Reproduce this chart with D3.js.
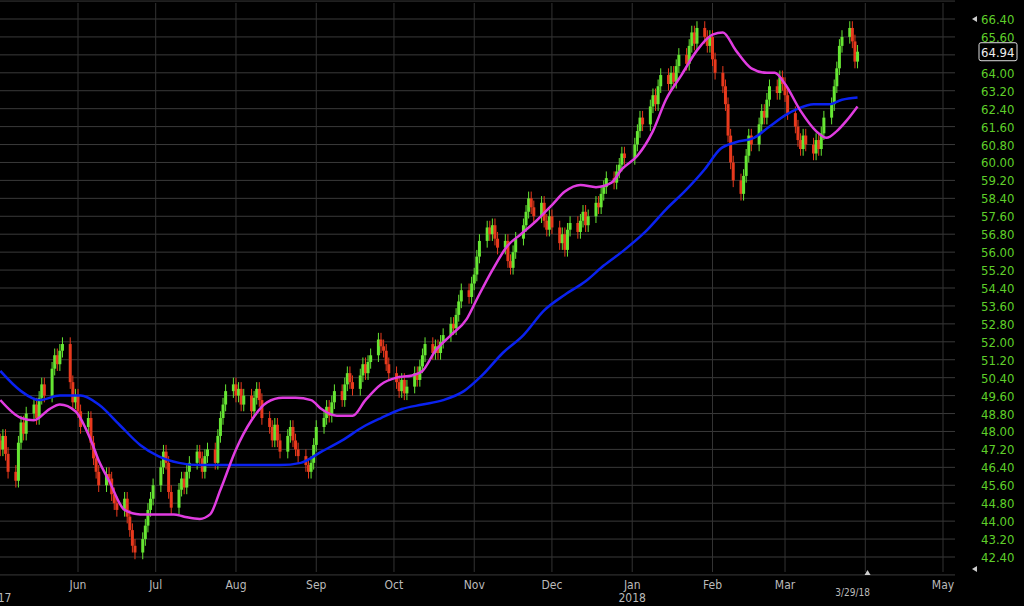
<!DOCTYPE html>
<html>
<head>
<meta charset="utf-8">
<script src="https://cdn.jsdelivr.net/npm/d3@7"></script>
<style>
  body { margin: 0; background: #000; overflow: hidden; }
  svg { display: block; font-family: "DejaVu Sans Condensed", "DejaVu Sans", sans-serif; }
</style>
</head>
<body>
<div id="chart"></div>
<script>
// daily closes per month (trading days)
const months = ["2017-05-02", "2017-06-01", "2017-07-03", "2017-08-01", "2017-09-01", "2017-10-02",
  "2017-11-01", "2017-12-01", "2018-01-02", "2018-02-01", "2018-03-01"];
const closes = [
  [47.2,47.8,47.0,46.2,45.8,47.5,48.4,47.9,48.8,49.2,48.6,49.5,50.1,49.6,50.8,51.4,51.0,51.6,51.9,50.2,49.3,49.6],
  [48.9,48.2,48.6,47.5,46.8,46.2,45.6,46.1,45.9,45.2,44.8,44.5,45.0,44.2,43.6,42.9,42.6,43.2,43.8,44.5,45.0,45.6],
  [46.4,47.1,46.6,45.3,44.6,45.4,45.9,45.5,46.2,46.6,47.1,46.8,46.2,46.9,47.2,46.6,47.8,48.6,49.2,49.8,50.1],
  [49.6,49.9,49.2,49.6,48.9,49.5,49.9,49.4,48.6,48.2,47.6,48.3,47.6,47.1,47.8,48.2,47.6,47.2,46.9,46.5,46.2,46.6,47.4],
  [48.2,48.6,49.1,48.7,49.3,49.8,49.4,50.1,50.6,50.2,49.9,50.5,51.0,50.6,51.1,51.4,52.1,51.8,51.6,51.0,50.6],
  [50.2,49.8,50.3,49.7,50.0,50.6,50.3,50.9,51.4,51.9,51.5,51.8,51.5,52.0,52.3,52.8,52.6,53.2,53.8,54.3,54.0,54.6],
  [55.0,55.8,56.5,57.1,56.8,57.2,56.6,56.2,56.5,55.6,55.3,56.0,56.6,57.2,57.8,58.4,58.0,57.6,58.2,57.4,57.0,57.6],
  [57.1,56.4,56.8,56.1,57.0,57.3,56.9,57.4,57.8,57.2,57.6,58.2,58.0,58.6,58.9,59.3,59.1,59.6,59.9,60.4,60.2],
  [60.8,61.4,62.0,61.7,62.5,63.0,62.6,63.4,63.9,63.5,64.0,63.6,64.3,64.8,64.4,65.2,65.8,65.3,66.0,65.6,65.2,65.6],
  [64.6,64.0,63.4,62.6,61.2,60.0,59.2,58.6,59.4,60.3,61.2,60.8,61.7,62.3,62.0,62.8,63.4,63.1,63.8,63.5],
  [63.0,62.2,61.6,61.0,60.6,61.2,60.8,60.4,61.0,60.6,61.3,62.0,62.6,63.4,64.2,65.2,65.6,66.0,65.4,64.5,64.94]
];
const firstOpen = 47.6;

// moving averages
const maShortDates = ["2017-05-02","2017-05-10","2017-05-15","2017-05-21","2017-05-25","2017-05-31","2017-06-06","2017-06-09","2017-06-13","2017-06-19","2017-06-25","2017-07-02","2017-07-08","2017-07-12","2017-07-18","2017-07-22","2017-07-26","2017-08-01","2017-08-07","2017-08-13","2017-08-19","2017-08-24","2017-08-30","2017-09-03","2017-09-09","2017-09-15","2017-09-20","2017-09-26","2017-10-02","2017-10-08","2017-10-12","2017-10-17","2017-10-23","2017-10-29","2017-11-02","2017-11-08","2017-11-14","2017-11-19","2017-11-25","2017-12-01","2017-12-06","2017-12-12","2017-12-18","2017-12-24","2017-12-28","2018-01-03","2018-01-09","2018-01-14","2018-01-20","2018-01-26","2018-02-01","2018-02-05","2018-02-10","2018-02-16","2018-02-22","2018-02-25","2018-03-01","2018-03-07","2018-03-13","2018-03-17","2018-03-21","2018-03-25","2018-03-29"];
const maShort = [49.4,48.6,48.5,49.0,49.2,48.9,47.6,46.7,45.8,44.5,44.3,44.3,44.3,44.2,44.1,44.3,45.4,47.2,48.5,49.3,49.5,49.5,49.4,49.0,48.7,48.7,49.4,50.1,50.4,50.5,50.7,51.6,52.3,53.0,53.9,55.2,56.3,56.8,57.4,58.1,58.7,59.0,58.9,59.1,59.7,60.3,61.4,62.8,63.9,65.0,65.7,65.8,65.0,64.2,64.0,64.0,63.5,62.3,61.4,61.1,61.4,61.9,62.5];
const maLongDates = ["2017-05-02","2017-05-10","2017-05-17","2017-05-25","2017-06-02","2017-06-09","2017-06-17","2017-06-25","2017-07-02","2017-07-10","2017-07-18","2017-07-26","2017-08-03","2017-08-10","2017-08-18","2017-08-26","2017-09-03","2017-09-11","2017-09-19","2017-09-26","2017-10-04","2017-10-12","2017-10-20","2017-10-28","2017-11-04","2017-11-12","2017-11-20","2017-11-28","2017-12-06","2017-12-14","2017-12-21","2017-12-29","2018-01-06","2018-01-14","2018-01-22","2018-01-29","2018-02-04","2018-02-10","2018-02-17","2018-02-23","2018-03-01","2018-03-06","2018-03-12","2018-03-18","2018-03-23","2018-03-29"];
const maLong = [50.7,49.8,49.4,49.6,49.6,49.2,48.3,47.4,46.9,46.6,46.5,46.5,46.5,46.5,46.5,46.6,47.1,47.6,48.2,48.6,49.0,49.2,49.4,49.8,50.5,51.5,52.3,53.4,54.1,54.7,55.4,56.1,56.9,57.9,58.8,59.7,60.6,60.9,61.1,61.6,62.1,62.4,62.6,62.6,62.8,62.9];

const priceTicks = d3.range(0, 31).map(i => +(42.4 + i * 0.8).toFixed(2));
const monthLabels = ["Jun","Jul","Aug","Sep","Oct","Nov","Dec","Jan","Feb","Mar","Apr","May"];
const lastPrice = 64.94;
const lastLabel = "3/29/18";

// build candles: trading weekdays of each month
const parse = d3.timeParse("%Y-%m-%d");
const candles = [];
let prev = firstOpen;
months.forEach((m, i) => {
  const start = parse(m);
  const end = d3.timeMonth.offset(d3.timeMonth.floor(start), 1);
  const days = d3.timeDay.range(start, end).filter(d => d.getDay() !== 0 && d.getDay() !== 6);
  closes[i].forEach((c, j) => {
    if (days[j]) candles.push({ date: days[j], open: prev, close: c });
    prev = c;
  });
});

const width = 1024, height = 606;
const svg = d3.select("#chart").append("svg").attr("width", width).attr("height", height);

const x = d3.scaleTime()
  .domain([new Date(2017, 5, 1), new Date(2018, 4, 1)])
  .range([78, 943]);
const y = d3.scaleLinear().domain([42.4, 66.4]).range([557, 19]);

// grid
svg.append("g").selectAll("line").data(d3.range(-1, 32)).join("line")
  .attr("x1", 0).attr("x2", 955)
  .attr("y1", d => y(42.4 + d * 0.8)).attr("y2", d => y(42.4 + d * 0.8))
  .attr("stroke", "#3a3a3a").attr("stroke-width", 1);
const monthDates = d3.timeMonth.range(new Date(2017, 5, 1), new Date(2018, 4, 2));
svg.append("g").selectAll("line").data(monthDates).join("line")
  .attr("x1", d => x(d)).attr("x2", d => x(d))
  .attr("y1", 3).attr("y2", 572)
  .attr("stroke", "#333").attr("stroke-width", 1);

// candles
const cg = svg.append("g");
cg.selectAll("line").data(candles).join("line")
  .attr("x1", d => x(d.date)).attr("x2", d => x(d.date))
  .attr("y1", d => y(Math.max(d.open, d.close) + 0.3))
  .attr("y2", d => y(Math.min(d.open, d.close) - 0.3))
  .attr("stroke", d => d.close >= d.open ? "#66e633" : "#e8391d").attr("stroke-width", 1);
cg.selectAll("rect").data(candles).join("rect")
  .attr("x", d => x(d.date) - 1.5).attr("width", 3)
  .attr("y", d => y(Math.max(d.open, d.close)))
  .attr("height", d => Math.max(1, Math.abs(y(d.open) - y(d.close))))
  .attr("fill", d => d.close >= d.open ? "#66e633" : "#e8391d");

// moving averages
const line = d3.line().x(d => x(d[0])).y(d => y(d[1])).curve(d3.curveMonotoneX);
svg.append("path").datum(maLongDates.map((d, i) => [parse(d), maLong[i]]))
  .attr("d", line).attr("fill", "none").attr("stroke", "#0a22f0").attr("stroke-width", 2.5);
svg.append("path").datum(maShortDates.map((d, i) => [parse(d), maShort[i]]))
  .attr("d", line).attr("fill", "none").attr("stroke", "#e03ce0").attr("stroke-width", 2.5);

// right price axis
const ax = svg.append("g");
ax.selectAll("text").data(priceTicks.filter(p => Math.abs(p - 64.8) > 0.01)).join("text")
  .attr("x", 981).attr("y", d => y(d) + 5)
  .attr("fill", "#5fcf2a").attr("font-size", 13).text(d => d.toFixed(2));
ax.append("rect").attr("x", 979).attr("y", y(lastPrice) - 9).attr("width", 38).attr("height", 18)
  .attr("rx", 2).attr("fill", "#000").attr("stroke", "#ddd").attr("stroke-width", 1);
ax.append("text").attr("x", 981).attr("y", y(lastPrice) + 5)
  .attr("fill", "#eee").attr("font-size", 13).text(lastPrice.toFixed(2));
ax.append("path").attr("d", `M972,${y(66.4)}l5,-3v6z`).attr("fill", "#ccc");
ax.append("path").attr("d", "M972,569l5,-3v6z").attr("fill", "#ccc");

// bottom date axis
const bx = svg.append("g").attr("fill", "#bbb").attr("font-size", 12);
bx.selectAll("text.m").data(monthDates).join("text").attr("class", "m")
  .attr("x", d => x(d)).attr("y", 589).attr("text-anchor", "middle")
  .text((d, i) => monthLabels[i] === "Apr" ? "" : monthLabels[i]);
bx.append("text").attr("x", x(new Date(2018, 0, 1))).attr("y", 602).attr("text-anchor", "middle").text("2018");
bx.append("text").attr("x", x(new Date(2017, 4, 1))).attr("y", 602).attr("text-anchor", "middle").text("2017");
bx.append("text").attr("x", x(new Date(2018, 2, 29)) - 5).attr("y", 596).attr("text-anchor", "middle")
  .attr("font-size", 10).text(lastLabel);
svg.append("path").attr("d", `M${x(new Date(2018, 2, 29)) + 10},570l-3,5h6z`).attr("fill", "#ccc");
</script>
</body>
</html>
